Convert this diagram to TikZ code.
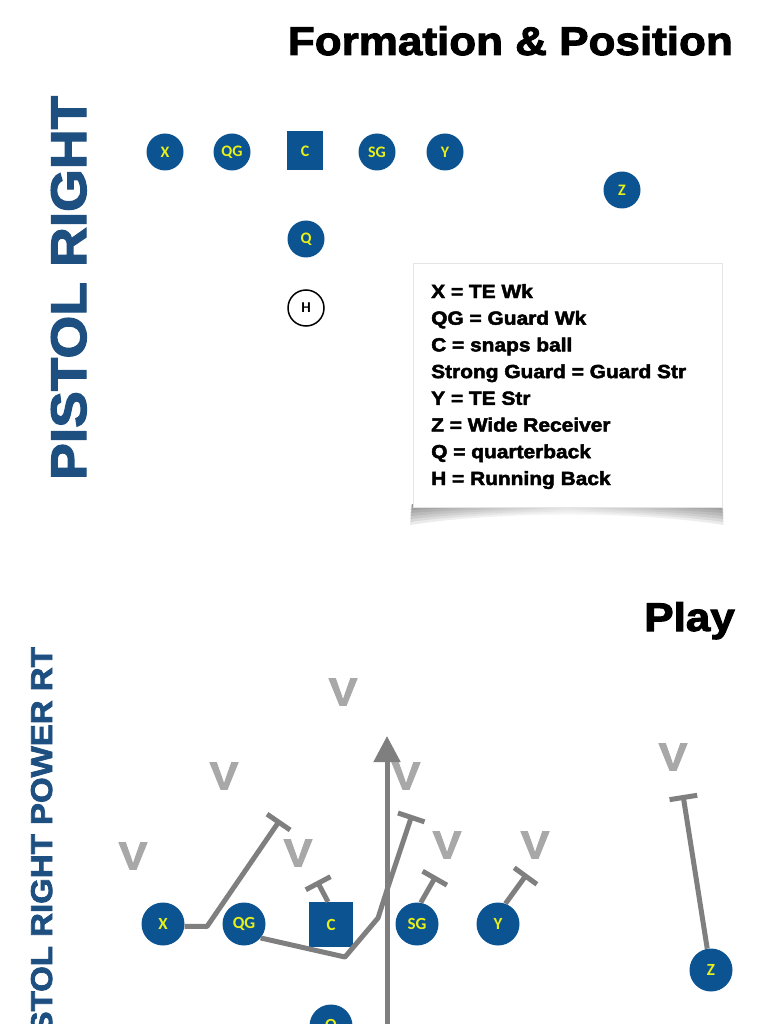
\documentclass[tikz,border=0pt]{standalone}
\usepackage{fontspec}
\setmainfont{Liberation Sans}
\newfontfamily\blk[FakeStretch=1.1,FakeBold=2.5]{Liberation Sans Bold}
\newfontfamily\calbold{Carlito Bold}
\usetikzlibrary{arrows.meta}
\definecolor{navy}{HTML}{0C5391}
\definecolor{ttl}{HTML}{1D4F80}
\definecolor{ylw}{HTML}{E8F01A}
\definecolor{rte}{HTML}{7F7F7F}
\definecolor{vcol}{HTML}{A8A8A8}
\begin{document}
\begin{tikzpicture}[x=1pt,y=-1pt,
  player/.style={circle, fill=navy, minimum size=37pt, inner sep=0pt, text=ylw, font=\calbold\fontsize{16}{16}\selectfont},
  centre/.style={rectangle, fill=navy, minimum width=36pt, minimum height=39pt, inner sep=0pt, text=ylw, font=\calbold\fontsize{16}{16}\selectfont},
  bigplayer/.style={player, minimum size=43pt, font=\calbold\fontsize{17}{17}\selectfont},
  bigcentre/.style={centre, minimum width=44pt, minimum height=45pt, font=\calbold\fontsize{17}{17}\selectfont},
  back/.style={circle, draw=black, line width=1.5pt, fill=white, minimum size=36pt, inner sep=0pt, font=\calbold\fontsize{15}{15}\selectfont},
  route/.style={draw=rte, line width=5pt},
  blockend/.style={route, -{Bar[width=28pt]}},
  defender/.style={text=vcol, inner sep=0pt, font=\blk\fontsize{39}{39}\selectfont},
  heading/.style={inner sep=0pt, font=\blk\fontsize{40}{40}\selectfont},
  sidetitle/.style={inner sep=0pt, rotate=90, text=ttl},
  legendline/.style={inner sep=0pt, anchor=base west, font=\blk\fontsize{19}{19}\selectfont}
]
\useasboundingbox (0,0) rectangle (768,1024);
\clip (0,0) rectangle (768,1024);

% ---------- Formation & Position ----------
\node[heading, anchor=base east] (title1) at (733,55) {Formation \& Position};
\node[sidetitle, anchor=base west, font=\blk\fontsize{50}{50}\selectfont] (side1) at (86,480) {PISTOL RIGHT};

\node[player] (fX) at (165,152) {X};
\node[player] (fQG) at (232,152) {QG};
\node[centre] (fC) at (305,151) {C};
\node[player] (fSG) at (377,152) {SG};
\node[player] (fY) at (445,152) {Y};
\node[player] (fZ) at (622,190) {Z};
\node[player] (fQ) at (306,239) {Q};
\node[back] (fH) at (306,308) {H};

% legend box with curled shadow (layered bands)
\foreach \d in {3,6,...,21}{
  \shade[left color=black!75, right color=black!75, middle color=black!25, opacity=0.11]
    (412,504) -- (722,504) -- (723.5,504+\d) .. controls (640,504+0.35*\d) and (495,504+0.35*\d) .. (410.5,504+\d) -- cycle;
}
\node[draw=gray!20, line width=1pt, fill=white, anchor=north west, minimum width=309pt, minimum height=244pt, inner sep=0pt] (legend) at (413,263) {};
\node[legendline] (l1) at (431,298) {X = TE Wk};
\node[legendline] (l2) at (431,324.7) {QG = Guard Wk};
\node[legendline] (l3) at (431,351.4) {C = snaps ball};
\node[legendline] (l4) at (431,378.1) {Strong Guard = Guard Str};
\node[legendline] (l5) at (431,404.8) {Y = TE Str};
\node[legendline] (l6) at (431,431.5) {Z = Wide Receiver};
\node[legendline] (l7) at (431,458.2) {Q = quarterback};
\node[legendline] (l8) at (431,485) {H = Running Back};

% ---------- Play ----------
\node[heading, anchor=base east] (title2) at (735,631) {Play};
\node[sidetitle, anchor=base east, font=\blk\fontsize{30}{30}\selectfont] (side2) at (52,647) {PISTOL RIGHT POWER RT};

% defenders
\node[defender] (v1) at (343,692) {V};
\node[defender] (v2) at (224,776) {V};
\node[defender] (v3) at (133,856) {V};
\node[defender] (v4) at (298,853) {V};
\node[defender] (v5) at (406,776) {V};
\node[defender] (v6) at (447,845) {V};
\node[defender] (v7) at (535,845) {V};
\node[defender] (v8) at (673,757) {V};

% offense
\node[bigplayer] (X) at (163,924) {X};
\node[bigplayer] (QG) at (244,924) {QG};
\node[bigcentre] (C) at (331,924.5) {C};
\node[bigplayer] (SG) at (417,924) {SG};
\node[bigplayer] (Y) at (498,924) {Y};
\node[bigplayer] (Z) at (711,970) {Z};
\node[bigplayer] (Q) at (331,1026) {Q};

% route coordinates
\coordinate (hb) at (387,1040);
\coordinate (tip) at (387,736);
\coordinate (xk) at (207,926.5);
\coordinate (xb) at (280,820);
\coordinate (gk1) at (345,957);
\coordinate (gk2) at (378,918);
\coordinate (gk3) at (387,890);
\coordinate (gb) at (412,815);
\coordinate (cb) at (317,881);
\coordinate (sgb) at (436,876);
\coordinate (yb) at (527,874);
\coordinate (zb) at (683,795);

\draw[route, -{Triangle[width=26pt,length=26pt]}] (hb) -- (tip);
\draw[blockend, line join=round] (X.-6) -- (xk) -- (xb);
\draw[blockend, line join=round] (QG.-40) -- (gk1) -- (gk2) -- (gk3) -- (gb);
\draw[blockend] ([xshift=-3pt]C.north) -- (cb);
\draw[blockend] (SG.80) -- (sgb);
\draw[blockend] (Y.70) -- (yb);
\draw[blockend] (Z.100) -- (zb);
\end{tikzpicture}
\end{document}
